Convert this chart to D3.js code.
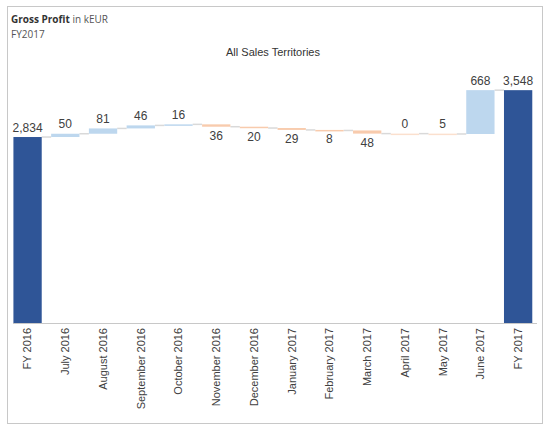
<!DOCTYPE html>
<html>
<head>
<meta charset="utf-8">
<script src="https://cdn.jsdelivr.net/npm/d3@7"></script>
<style>
  body { margin: 0; background: #fff; }
  svg { display: block; font-family: "Liberation Sans", Arial, sans-serif; }
</style>
</head>
<body>
<svg id="chart" width="550" height="431"></svg>
<script>
// categories along the x axis
const categories = [
  'FY 2016', 'July 2016', 'August 2016', 'September 2016', 'October 2016',
  'November 2016', 'December 2016', 'January 2017', 'February 2017',
  'March 2017', 'April 2017', 'May 2017', 'June 2017', 'FY 2017'
];
// gross profit per step in kEUR (totals first and last, monthly deltas between)
const values = [2834, 50, 81, 46, 16, -36, -20, -29, -8, -48, -0.4, -5.4, 668, 3548];
const isTotal = [true, false, false, false, false, false, false, false, false, false, false, false, false, true];

const colors = {
  total: '#2f5597',
  up: '#bdd7ee',
  down: '#f8cbad',
  connector: '#d9d9d9',
  frame: '#c8c8c8',
  label: '#404040'
};

const svg = d3.select('#chart');

// outer frame
svg.append('rect')
  .attr('x', 7.5).attr('y', 6.5)
  .attr('width', 535).attr('height', 417)
  .attr('fill', '#fff')
  .attr('stroke', colors.frame);

// headers
const title = svg.append('text')
  .attr('x', 11).attr('y', 23)
  .attr('font-family', '"Open Sans", sans-serif')
  .attr('font-size', '10px')
  .attr('fill', '#333');
title.append('tspan').attr('font-weight', 'bold').text('Gross Profit');
title.append('tspan').attr('fill', '#555').text(' in kEUR');

svg.append('text')
  .attr('x', 11).attr('y', 37.5)
  .attr('font-family', '"Open Sans", sans-serif')
  .attr('font-size', '10px')
  .attr('fill', '#555')
  .text('FY2017');

svg.append('text')
  .attr('x', 273).attr('y', 55.5)
  .attr('text-anchor', 'middle')
  .attr('font-size', '11px')
  .attr('fill', '#333')
  .text('All Sales Territories');

// build waterfall steps
let running = 0;
const steps = categories.map((c, i) => {
  const v = values[i];
  let start, end;
  if (isTotal[i]) {
    start = 0; end = v; running = v;
  } else {
    start = running; end = running + v; running = end;
  }
  return { cat: c, value: v, start, end, total: isTotal[i] };
});

const x = d3.scaleBand()
  .domain(categories)
  .range([8.7, 537])
  .paddingInner(0.25)
  .paddingOuter(0.125);

const y = d3.scaleLinear()
  .domain([0, 4000])
  .range([323, 60.5]);

const g = svg.append('g');

// connectors between bars at the running level
g.selectAll('line.connector')
  .data(steps.slice(0, -1))
  .join('line')
  .attr('class', 'connector')
  .attr('x1', d => x(d.cat) + x.bandwidth())
  .attr('x2', (d, i) => x(steps[i + 1].cat))
  .attr('y1', d => y(d.end))
  .attr('y2', d => y(d.end))
  .attr('stroke', colors.connector)
  .attr('stroke-width', 1.5);

// bars
g.selectAll('rect.bar')
  .data(steps)
  .join('rect')
  .attr('class', 'bar')
  .attr('x', d => x(d.cat))
  .attr('width', x.bandwidth())
  .attr('y', d => y(Math.max(d.start, d.end)))
  .attr('height', d => Math.max(1.5, Math.abs(y(d.start) - y(d.end))))
  .attr('fill', d => d.total ? colors.total : (d.value >= 0 ? colors.up : colors.down))
  .attr('fill-opacity', d => (!d.total && Math.abs(d.value) < 6) ? 0.6 : 1);

// value labels
const fmt = d3.format(',.0f');
g.selectAll('text.value')
  .data(steps)
  .join('text')
  .attr('class', 'value')
  .attr('x', d => x(d.cat) + x.bandwidth() / 2)
  .attr('y', d => {
    // tiny negative moves keep their label on top like the source
    if (d.value < 0 && Math.abs(d.value) >= 6) return y(Math.min(d.start, d.end)) + 13;
    return y(Math.max(d.start, d.end)) - 5.5;
  })
  .attr('text-anchor', 'middle')
  .attr('font-size', '12px')
  .attr('fill', colors.label)
  .text(d => fmt(Math.abs(d.value)));

// x axis
const xAxis = g.append('g')
  .attr('transform', 'translate(0,323)')
  .call(d3.axisBottom(x).tickSize(0).tickPadding(0));
xAxis.select('.domain')
  .attr('d', 'M13,0.5H537')
  .attr('stroke', colors.frame);
xAxis.selectAll('.tick text')
  .attr('font-size', '11px')
  .attr('font-family', '"Liberation Sans", Arial, sans-serif')
  .attr('fill', colors.label)
  .attr('text-anchor', 'end')
  .attr('transform', 'rotate(-90)')
  .attr('x', -5)
  .attr('y', 0)
  .attr('dy', '0.35em');
</script>
</body>
</html>
